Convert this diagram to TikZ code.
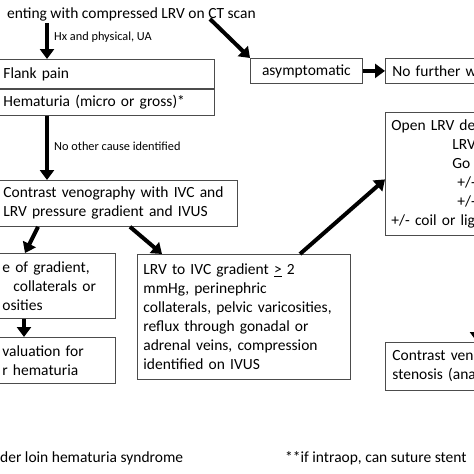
\documentclass[tikz,border=0pt]{standalone}
\usepackage{fontspec}
\setmainfont{Carlito}
\usetikzlibrary{arrows.meta}
\begin{document}
\begin{tikzpicture}[x=1pt, y=-1pt,
  every node/.style={font=\fontsize{15.5}{19}\selectfont},
  box/.style={draw=black!70, line width=0.8pt, fill=white, anchor=north west, align=left, inner ysep=0pt, inner xsep=7pt},
  lbl/.style={font=\fontsize{12.3}{15}\selectfont, anchor=west, inner sep=0pt},
  note/.style={anchor=base west, inner sep=0pt},
  arr/.style={line width=4pt, -{Triangle[length=10pt, width=14pt]}}]
  \useasboundingbox (0,0) rectangle (474,474);
  \clip (0,0) rectangle (474,474);
  \coordinate (colA) at (47,0);
  \coordinate (ct) at (210,19);
  \coordinate (offright) at (477,298);
  \node[anchor=base east, inner sep=0pt] (present) at (256,18) {enting with compressed LRV on CT scan};
  \node[lbl] (hx) at (54,37) {Hx and physical, UA};
  \node[box, text width=204pt, minimum height=29pt] (flank) at (-4,59) {Flank pain};
  \node[box, text width=204pt, minimum height=26pt] (hema) at (flank.south west) {Hematuria (micro or gross)*};
  \node[lbl] (nocause) at (54,146) {No other cause identified};
  \node[box, text width=227pt, minimum height=46pt] (veno) at (-4,180) {Contrast venography with IVC and\\LRV pressure gradient and IVUS};
  \node[box, text width=106pt, minimum height=65pt] (absent) at (-5,253) {e of gradient,\\\hspace*{11pt}collaterals or\\osities};
  \node[box, text width=106pt, minimum height=46pt] (evalother) at (-5,337) {valuation for\\r hematuria};
  \node[box, inner xsep=6pt, text width=201pt, minimum height=125pt] (grad) at (137,254) {LRV to IVC gradient \underline{>} 2\\mmHg, perinephric\\collaterals, pelvic varicosities,\\reflux through gonadal or\\adrenal veins, compression\\identified on IVUS};
  \node[box, minimum width=112pt, minimum height=25pt] (asym) at (250,58) {asymptomatic};
  \node[box, text width=150pt, minimum height=25pt] (nowork) at (385,58) {No further w};
  \node[box, inner xsep=6pt, text width=200pt, minimum height=123pt] (openlrv) at (385,112) {Open LRV de\\\hspace*{61pt}LRV\\\hspace*{61pt}Go\\\hspace*{66pt}+/-\\\hspace*{66pt}+/-\\+/- coil or lig};
  \node[box, text width=150pt, minimum height=48pt] (stenosis) at (385,342) {Contrast ven\\stenosis (ana};
  \node[note] (loin) at (0,462) {der loin hematuria syndrome};
  \node[note] (intraop) at (285,462) {**if intraop, can suture stent};
  \draw[arr, shorten <=2.5pt] (present.south -| colA) -- (flank.north -| colA);
  \draw[arr] (hema.south -| colA) -- (veno.north -| colA);
  \draw[arr] (ct) -- (asym.north west);
  \draw[arr] (asym.east) -- (nowork.west);
  \draw[arr] ([xshift=42pt]veno.south west) -- ([xshift=30pt]absent.north west);
  \draw[arr] ([xshift=134pt]veno.south west) -- ([xshift=25pt]grad.north west);
  \draw[arr] ([xshift=29pt]absent.south west) -- ([xshift=29pt]evalother.north west);
  \draw[arr] ([xshift=163pt]grad.north west) -- ([yshift=-5.5pt]openlrv.west);
  \draw[arr] (offright) -- (offright |- stenosis.north);
\end{tikzpicture}
\end{document}
